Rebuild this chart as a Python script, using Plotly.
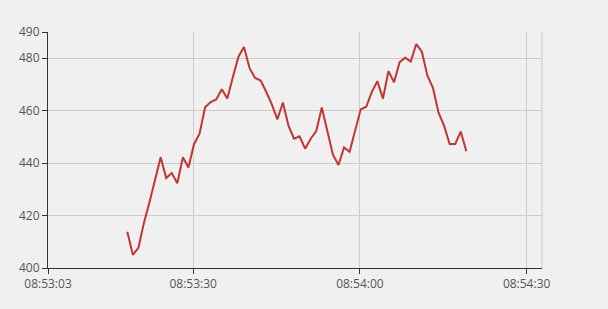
import pandas as pd
import plotly.graph_objects as go

# data: one sample per second
start_time = "2024-01-01 08:53:18.150"
values = [413.8, 405.0, 407.7, 417.3, 425.2, 434.3, 442.2, 434.3, 436.2, 432.3,
          442.2, 438.3, 447.2, 451.2, 461.3, 463.3, 464.3, 468.2, 464.6, 472.8,
          480.6, 484.3, 476.2, 472.5, 471.5, 467.2, 462.4, 456.7, 463.1, 454.3,
          449.3, 450.2, 445.5, 449.3, 452.2, 461.2, 452.0, 443.2, 439.3, 446.0,
          444.3, 452.8, 460.5, 461.5, 467.2, 471.2, 464.6, 475.1, 470.8, 478.5,
          480.2, 478.7, 485.4, 482.5, 473.3, 468.7, 459.2, 454.3, 447.3, 447.3,
          452.0, 444.5]
times = pd.date_range(start_time, periods=len(values), freq="1s")

x_min = "2024-01-01 08:53:03.880"
x_max = "2024-01-01 08:54:32.770"
x_tickvals = [x_min, "2024-01-01 08:53:30", "2024-01-01 08:54:00", "2024-01-01 08:54:30"]
x_ticktext = ["08:53:03", "08:53:30", "08:54:00", "08:54:30"]
y_tickvals = [400, 420, 440, 460, 480, 490]

fig = go.Figure()
fig.add_trace(go.Scatter(x=times, y=values, mode="lines",
                         line=dict(color="#c23531", width=2), showlegend=False))

bg = "#f0f0f0"
fig.update_layout(
    width=608, height=309,
    margin=dict(l=48, r=66, t=32, b=41),
    paper_bgcolor=bg, plot_bgcolor=bg,
    font=dict(family="Open Sans", size=12, color="#555"),
    xaxis=dict(range=[x_min, x_max], tickmode="array", tickvals=x_tickvals, ticktext=x_ticktext,
               showgrid=True, gridcolor="#cccccc", gridwidth=1,
               showline=True, linecolor="#333", linewidth=1,
               ticks="outside", ticklen=5, tickcolor="#333", zeroline=False),
    yaxis=dict(range=[400, 490], tickmode="array", tickvals=y_tickvals,
               showgrid=True, gridcolor="#cccccc", gridwidth=1,
               showline=True, linecolor="#333", linewidth=1,
               ticks="outside", ticklen=5, tickcolor="#333", zeroline=False),
    shapes=[dict(type="line", xref="paper", yref="paper", x0=1, x1=1, y0=0, y1=1,
                 line=dict(color="#cccccc", width=1), layer="below")],
)

fig.write_html("out.html")
